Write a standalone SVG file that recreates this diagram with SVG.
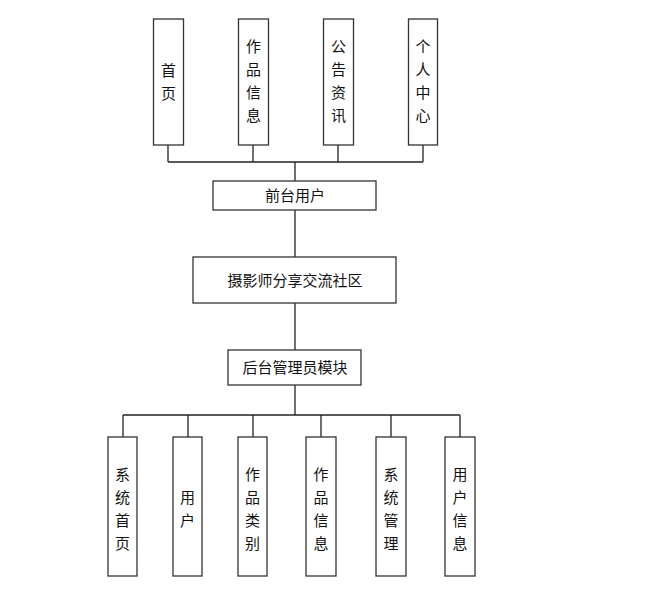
<svg xmlns="http://www.w3.org/2000/svg" width="670" height="591" viewBox="0 0 670 591">
<style>
rect{fill:#fff;stroke:#333;stroke-width:1.3}
text{font-family:"Noto Sans CJK SC",sans-serif;font-size:15px;fill:#111;text-anchor:middle}
.c line{stroke:#222;stroke-width:1.3}
</style>
<rect x="0" y="0" width="670" height="591" style="stroke:none"/>
<g class="c">
<line x1="168" y1="145" x2="168" y2="162"/><line x1="253" y1="145" x2="253" y2="162"/><line x1="338" y1="145" x2="338" y2="162"/><line x1="423" y1="145" x2="423" y2="162"/>
<line x1="168" y1="162" x2="423" y2="162"/>
<line x1="295" y1="162" x2="295" y2="181"/>
<line x1="295" y1="210" x2="295" y2="257"/>
<line x1="295" y1="303" x2="295" y2="350"/>
<line x1="295" y1="385" x2="295" y2="415"/>
<line x1="123" y1="415" x2="460" y2="415"/>
<line x1="123" y1="415" x2="123" y2="437"/><line x1="188" y1="415" x2="188" y2="437"/><line x1="253" y1="415" x2="253" y2="437"/><line x1="321" y1="415" x2="321" y2="437"/><line x1="391" y1="415" x2="391" y2="437"/><line x1="460" y1="415" x2="460" y2="437"/>
</g>
<g id="n1"><rect x="153.5" y="19" width="30" height="126"/><text x="168.5" y="76">首</text><text x="168.5" y="99">页</text></g>
<g id="n2"><rect x="238.5" y="19" width="30" height="126"/><text x="253.5" y="52">作</text><text x="253.5" y="75">品</text><text x="253.5" y="98">信</text><text x="253.5" y="121">息</text></g>
<g id="n3"><rect x="323.5" y="19" width="30" height="126"/><text x="338.5" y="52">公</text><text x="338.5" y="75">告</text><text x="338.5" y="98">资</text><text x="338.5" y="121">讯</text></g>
<g id="n4"><rect x="408.5" y="19" width="29" height="126"/><text x="423" y="52">个</text><text x="423" y="75">人</text><text x="423" y="98">中</text><text x="423" y="121">心</text></g>
<g id="n5"><rect x="213" y="181" width="163" height="29"/><text x="295" y="201">前台用户</text></g>
<g id="n6"><rect x="193" y="257" width="203" height="46"/><text x="295" y="286">摄影师分享交流社区</text></g>
<g id="n7"><rect x="228" y="350" width="133" height="35"/><text x="295" y="373">后台管理员模块</text></g>
<g id="b1"><rect x="108" y="437" width="29" height="139"/><text x="122.5" y="480">系</text><text x="122.5" y="503">统</text><text x="122.5" y="526">首</text><text x="122.5" y="549">页</text></g>
<g id="b2"><rect x="173" y="437" width="29" height="139"/><text x="187.5" y="503">用</text><text x="187.5" y="526">户</text></g>
<g id="b3"><rect x="238" y="437" width="29" height="139"/><text x="252.5" y="480">作</text><text x="252.5" y="503">品</text><text x="252.5" y="526">类</text><text x="252.5" y="549">别</text></g>
<g id="b4"><rect x="306" y="437" width="30" height="139"/><text x="321" y="480">作</text><text x="321" y="503">品</text><text x="321" y="526">信</text><text x="321" y="549">息</text></g>
<g id="b5"><rect x="376" y="437" width="30" height="139"/><text x="391" y="480">系</text><text x="391" y="503">统</text><text x="391" y="526">管</text><text x="391" y="549">理</text></g>
<g id="b6"><rect x="445" y="437" width="30" height="139"/><text x="460" y="480">用</text><text x="460" y="503">户</text><text x="460" y="526">信</text><text x="460" y="549">息</text></g>
</svg>
